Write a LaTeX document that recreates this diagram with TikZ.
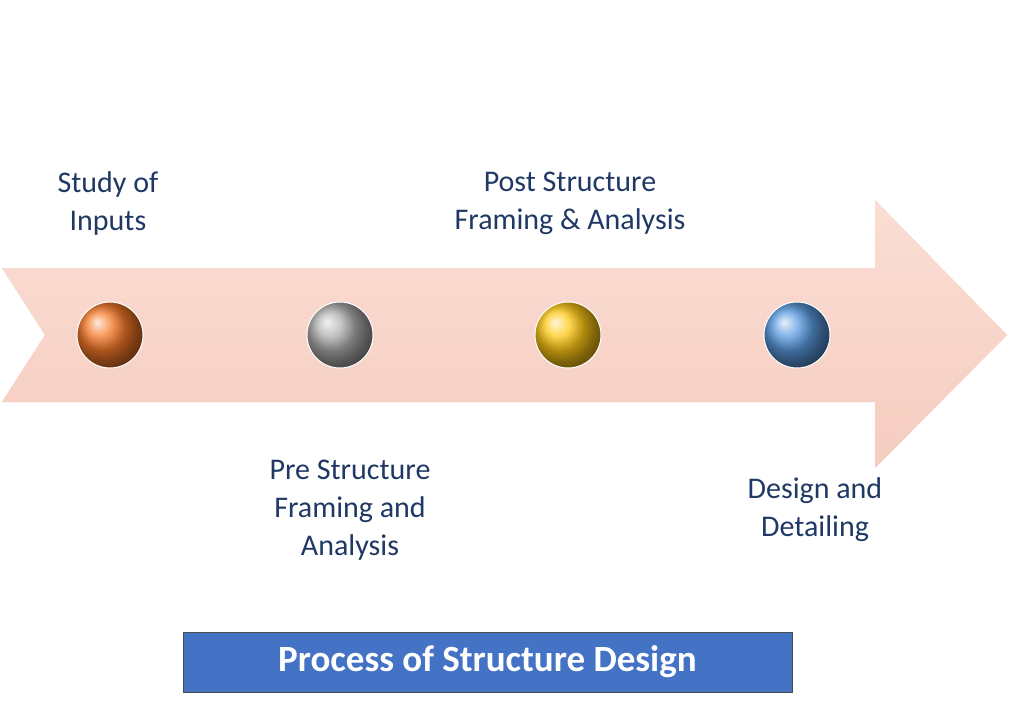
\documentclass[tikz,border=0pt]{standalone}
\usepackage{fontspec}
\setmainfont{Carlito}
\definecolor{navy}{RGB}{31,56,100}
\definecolor{pinkA}{RGB}{246,204,192}
\definecolor{pinkB}{RGB}{250,222,212}
\definecolor{titleblue}{RGB}{68,114,196}
\definecolor{cO}{RGB}{245,120,40}
\definecolor{cG}{RGB}{175,175,175}
\definecolor{cY}{RGB}{255,200,20}
\definecolor{cB}{RGB}{90,155,225}
\begin{document}
\begin{tikzpicture}[x=1pt,y=-1pt,
  lbl/.style={text=navy,font=\fontsize{30}{38}\selectfont,align=center},
  ball/.style={circle,minimum size=66pt,inner sep=0pt,ball color=#1,draw=white,line width=1pt}]
\useasboundingbox (0,0) rectangle (1009,720);
\path[fill=pinkA,top color=pinkB,bottom color=pinkA] (2,268) -- (875,268) -- (875,200) -- (1007,335) -- (875,468) -- (875,402) -- (2,402) -- (45,335) -- cycle;
\node[ball=cO] (b1) at (110,335) {};
\node[ball=cG] (b2) at (340,335) {};
\node[ball=cY] (b3) at (568,335) {};
\node[ball=cB] (b4) at (797,335) {};
\node[lbl] (t1) at (108,203) {Study of\\Inputs};
\node[lbl] (t3) at (570,203) {Post Structure\\Framing \& Analysis};
\node[lbl] (t2) at (350,510) {Pre Structure\\Framing and\\Analysis};
\node[lbl] (t4) at (815,510) {Design and\\Detailing};
\node[fill=titleblue,draw=gray!60!black,line width=1pt,minimum width=609pt,minimum height=60pt,text=white,font=\fontsize{37}{42}\selectfont\bfseries] (title) at (487.5,662) {Process of Structure Design};
\end{tikzpicture}
\end{document}
